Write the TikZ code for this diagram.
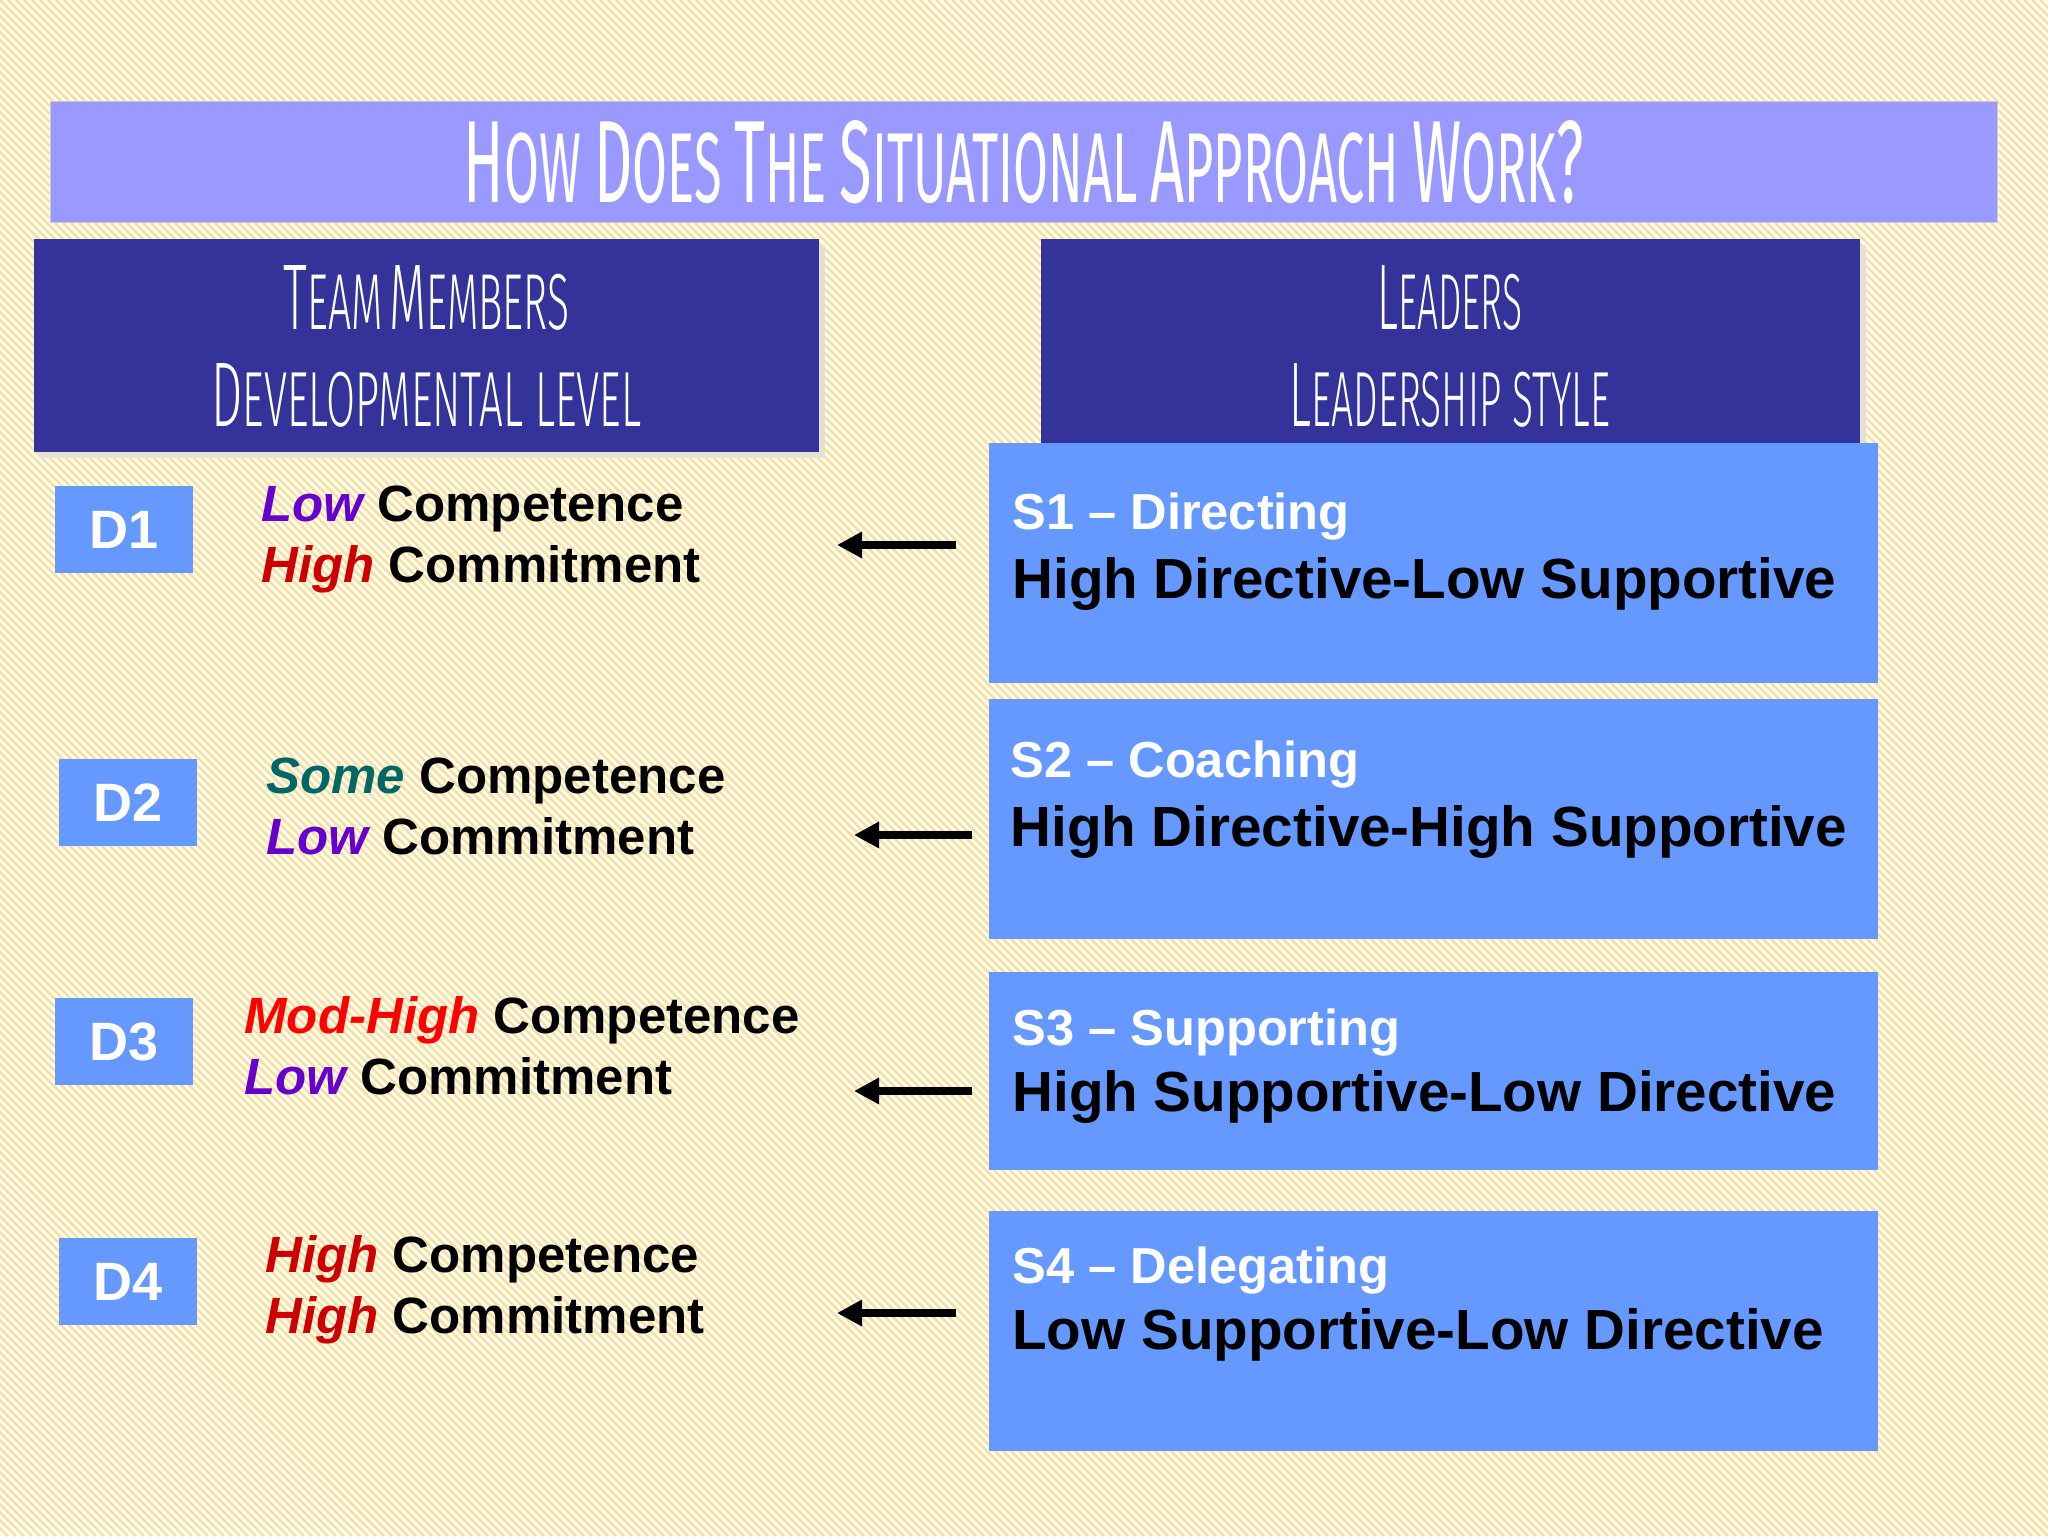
\documentclass[tikz,border=0pt]{standalone}
\usepackage{fontspec}
\usepackage{graphicx}
\setmainfont{Liberation Sans}
\newfontfamily\titlefont{Fira Sans}
\newfontfamily\headfont{Fira Sans}[UprightFont={* Light}]
\usetikzlibrary{arrows.meta}
\definecolor{titlebar}{RGB}{153,153,255}
\definecolor{headblue}{RGB}{51,51,153}
\definecolor{boxblue}{RGB}{102,153,255}
\definecolor{lowc}{RGB}{102,0,204}
\definecolor{highc}{RGB}{204,0,0}
\definecolor{somec}{RGB}{0,102,102}
\definecolor{modc}{RGB}{255,0,0}
\definecolor{stripe}{RGB}{246,224,158}
\definecolor{paper}{RGB}{255,254,248}
\definecolor{shadowc}{RGB}{228,224,212}
\newcommand\Bg[1]{{\fontsize{20pt}{20pt}\selectfont #1}}
\newcommand\Sm[1]{{\fontsize{17pt}{17pt}\selectfont #1}}
\newcommand\Lw{\textit{\color{lowc}Low}}
\newcommand\Hg{\textit{\color{highc}High}}
\tikzset{
  box/.style={anchor=north west, inner sep=0pt, outer sep=0pt},
  sbox/.style={box, fill=boxblue, minimum width=444.5pt},
  dbox/.style={box, fill=boxblue, minimum width=69pt, minimum height=43.5pt,
     text=white, font=\fontsize{27pt}{27pt}\selectfont\bfseries},
  hbox/.style={box, fill=headblue},
  htext/.style={anchor=base, inner sep=0pt, text=white},
  sline/.style={anchor=base west, inner sep=0pt, text=white, font=\fontsize{25.3pt}{25.3pt}\selectfont\bfseries},
  sdesc/.style={anchor=base west, inner sep=0pt, text=black, font=\fontsize{28.3pt}{28.3pt}\selectfont\bfseries},
  dtext/.style={anchor=base west, inner sep=0pt, text=black, font=\fontsize{25.5pt}{25.5pt}\selectfont\bfseries},
  arr/.style={line width=4pt, -{Triangle[length=12.5pt,width=12.5pt]}},
}
\begin{document}
\begin{tikzpicture}[x=0.5pt,y=-0.5pt]
\useasboundingbox (0,0) rectangle (2048,1536);
\fill[paper] (0,0) rectangle (2048,1536);
\begin{scope}
  \clip (0,0) rectangle (2048,1536);
  \foreach \i in {-1544,-1536,...,2048}
    \draw[stripe, line width=1.25pt] (\i,0) -- ++(1536,1536);
\end{scope}

% title
\fill[titlebar] (50,102) rectangle (1997,222);
\draw[gray!40, line width=0.5pt] (50,102) rectangle (1997,222);
\node[htext] (title) at (1024,202) {\resizebox{560pt}{41pt}{\titlefont
  \Bg{H}\Sm{OW}\, \Bg{D}\Sm{OES}\, \Bg{T}\Sm{HE}\, \Bg{S}\Sm{ITUATIONAL}\, \Bg{A}\Sm{PPROACH}\, \Bg{W}\Sm{ORK}\Bg{?}}};

% headers
\fill[shadowc] (38,245) rectangle (825,458);
\fill[shadowc] (1045,245) rectangle (1866,450);
\node[hbox, minimum width=392.5pt, minimum height=106.5pt] (hl) at (34,239) {};
\node[hbox, minimum width=409.5pt, minimum height=103pt] (hr) at (1041,239) {};
\node[htext] (hl1) at (426.5,329) {\resizebox{143pt}{32pt}{\headfont\Bg{T}\Sm{EAM} \Bg{M}\Sm{EMBERS}}};
\node[htext] (hl2) at (426.5,426) {\resizebox{215pt}{31.5pt}{\headfont\Bg{D}\Sm{EVELOPMENTAL LEVEL}}};
\node[htext] (hr1) at (1450,329) {\resizebox{72.5pt}{32pt}{\headfont\Bg{L}\Sm{EADERS}}};
\node[htext] (hr2) at (1450,426) {\resizebox{160.5pt}{31.5pt}{\headfont\Bg{L}\Sm{EADERSHIP STYLE}}};

% S boxes
\node[sbox, minimum height=120pt] (s1) at (989,443) {};
\node[sbox, minimum height=120pt] (s2) at (989,699) {};
\node[sbox, minimum height=99pt] (s3) at (989,972) {};
\node[sbox, minimum height=120pt] (s4) at (989,1211) {};
\node[sline] (s1a) at (1012,529) {S1 – Directing};
\node[sdesc] (s1b) at (1012,598) {High Directive-Low Supportive};
\node[sline] (s2a) at (1010,777) {S2 – Coaching};
\node[sdesc] (s2b) at (1010,846) {High Directive-High Supportive};
\node[sline] (s3a) at (1012,1045) {S3 – Supporting};
\node[sdesc] (s3b) at (1012,1111) {High Supportive-Low Directive};
\node[sline] (s4a) at (1012,1283) {S4 – Delegating};
\node[sdesc] (s4b) at (1012,1349) {Low Supportive-Low Directive};

% D boxes
\node[dbox] (d1) at (55,486) {D1};
\node[dbox] (d2) at (59,759) {D2};
\node[dbox] (d3) at (55,998) {D3};
\node[dbox] (d4) at (59,1238) {D4};
\node[dtext] (d1a) at (261,521) {\Lw{} Competence};
\node[dtext] (d1b) at (261,582) {\Hg{} Commitment};
\node[dtext] (d2a) at (266,793) {\textit{\color{somec}Some} Competence};
\node[dtext] (d2b) at (266,854) {\Lw{} Commitment};
\node[dtext] (d3a) at (244,1033) {\textit{\color{modc}Mod-High} Competence};
\node[dtext] (d3b) at (244,1094) {\Lw{} Commitment};
\node[dtext] (d4a) at (265,1272) {\Hg{} Competence};
\node[dtext] (d4b) at (265,1333) {\Hg{} Commitment};

% arrows
\coordinate (a1) at (956,545);  \coordinate (b1) at (837,545);
\coordinate (a2) at (972,835);  \coordinate (b2) at (854,835);
\coordinate (a3) at (972,1091); \coordinate (b3) at (854,1091);
\coordinate (a4) at (956,1313); \coordinate (b4) at (837,1313);
\draw[arr] (a1) -- (b1);
\draw[arr] (a2) -- (b2);
\draw[arr] (a3) -- (b3);
\draw[arr] (a4) -- (b4);
\end{tikzpicture}
\end{document}
